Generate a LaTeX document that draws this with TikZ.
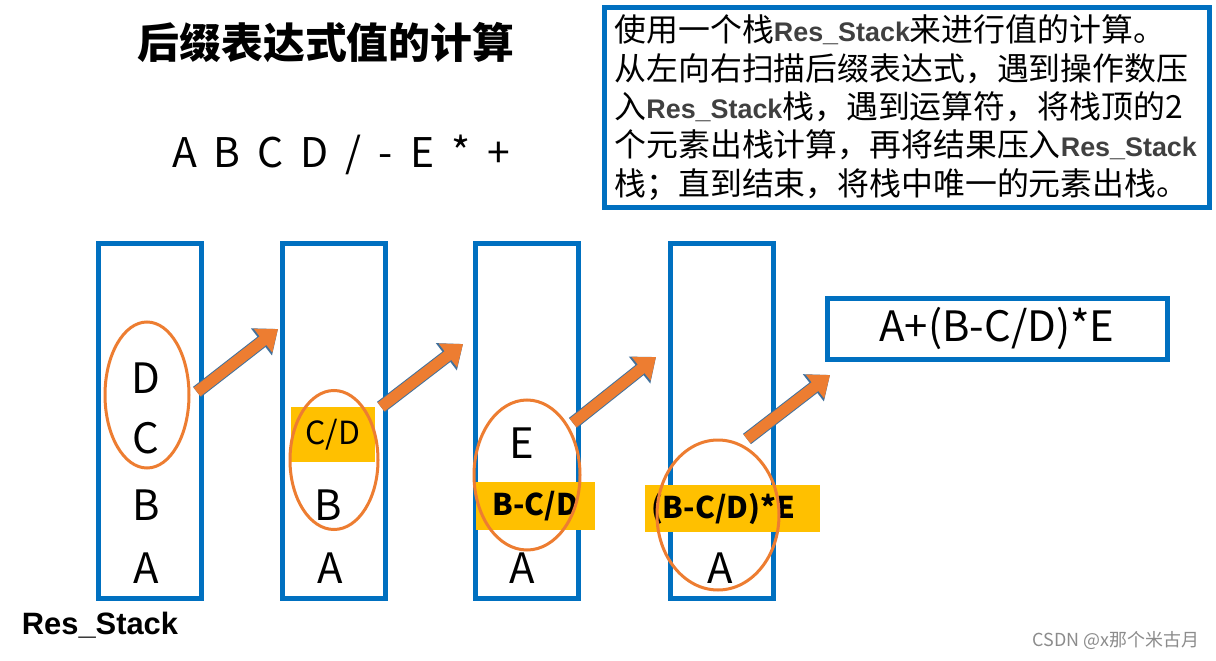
\documentclass[tikz,border=0pt]{standalone}
\usepackage{fontspec}
\setmainfont{Noto Sans CJK SC}
\newfontfamily\arialfont{Liberation Sans}
\usetikzlibrary{shapes.geometric,arrows.meta}
\definecolor{stackblue}{HTML}{0070C0}
\definecolor{ringorange}{HTML}{ED7D31}
\definecolor{markgold}{HTML}{FFC000}
\definecolor{tipblue}{HTML}{41719C}
\definecolor{keygray}{HTML}{404040}
\newcommand{\rsword}{{\arialfont\bfseries\fontsize{27}{27}\selectfont\color{keygray}Res\_Stack}}
\newcommand{\fsz}[1]{\fontsize{#1}{#1}\selectfont}
\newcommand{\exprfont}{\fontsize{41}{41}\selectfont\spaceskip=17bp\relax}
\begin{document}
\begin{tikzpicture}[x=1bp, y=-1bp,
  stack/.style={draw=stackblue, line width=5bp, minimum width=103bp, minimum height=355bp, inner sep=0pt},
  ring/.style={ellipse, draw=ringorange, line width=3bp, inner sep=0pt},
  hilite/.style={fill=markgold, inner sep=0pt},
  item/.style={font=\fsz{42}},
  boldlab/.style={font=\bfseries\fsz{30}},
  flow/.style={draw=ringorange, line width=11bp, -{Triangle[length=19bp,width=29bp]},
    preaction={draw=tipblue, line width=13bp, -{Triangle[length=21bp,width=33bp]}}}]
\useasboundingbox (0,0) rectangle (1216,661);
\fill[white] (0,0) rectangle (1216,661);

\node[font=\bfseries\fsz{42}] (title) at (326,42) {后缀表达式值的计算};
\node[font=\exprfont] (expr) at (341,155) {A B C D / - E * +};

\node[draw=stackblue, line width=5bp, minimum width=605bp, minimum height=200bp,
  text width=585bp, inner xsep=10bp, align=left, font=\fontsize{32}{38.5}\selectfont] (rule) at (907,107.5)
  {使用一个栈\rsword 来进行值的计算。\\
   从左向右扫描后缀表达式，遇到操作数压\\
   入\rsword 栈，遇到运算符，将栈顶的2\\
   个元素出栈计算，再将结果压入\rsword\\
   栈；直到结束，将栈中唯一的元素出栈。};

% stacks
\node[stack] (s1) at (149.5,421) {};
\node[stack] (s2) at (334,421) {};
\node[stack] (s3) at (526.5,421) {};
\node[stack] (s4) at (721.5,421) {};

\node[hilite, minimum width=84bp, minimum height=55bp, font=\fsz{32}] (cd) at (333,434.5) {C/D};
\node[hilite, minimum width=119bp, minimum height=48bp, boldlab] (bcd) at (535.5,506) {B-C/D};
\node[hilite, minimum width=175bp, minimum height=47bp, boldlab, text width=163bp, align=left] (bcde) at (732.5,508.5) {(B-C/D)*E};

\node[item] (d1) at (146,378) {D};
\node[item] (c1) at (146,438) {C};
\node[item] (b1) at (146,505) {B};
\node[item] (a1) at (146,568) {A};
\node[item] (b2) at (328,505) {B};
\node[item] (a2) at (330,568) {A};
\node[item] (e3) at (522,443) {E};
\node[item] (a3) at (522,568) {A};
\node[item] (a4) at (720,568) {A};

\node[ring, minimum width=84bp, minimum height=146bp] (r1) at (147,395) {};
\node[ring, minimum width=88bp, minimum height=139bp] (r2) at (334,460) {};
\node[ring, minimum width=106bp, minimum height=150bp] (r3) at (527,475) {};
\node[ring, minimum width=122bp, minimum height=150bp] (r4) at (718,515) {};

\node[draw=stackblue, line width=5bp, minimum width=340bp, minimum height=61bp, item] (res) at (997,328.5) {A+(B-C/D)*E};

\coordinate (p1) at (197,392);
\coordinate (q1) at (278,329);
\coordinate (p2) at (381,407);
\coordinate (q2) at (463,344);
\coordinate (p3) at (573,423);
\coordinate (q3) at (656,357);
\coordinate (p4) at (747,439);
\coordinate (q4) at (830,375);
\draw[flow] (p1) -- (q1);
\draw[flow] (p2) -- (q2);
\draw[flow] (p3) -- (q3);
\draw[flow] (p4) -- (q4);

\node[font=\arialfont\bfseries\fsz{31}] (lbl) at (100,625) {Res\_Stack};
\node[text=black!45, font=\fsz{18}] (mark) at (1116,641) {CSDN @x那个米古月};
\end{tikzpicture}
\end{document}
